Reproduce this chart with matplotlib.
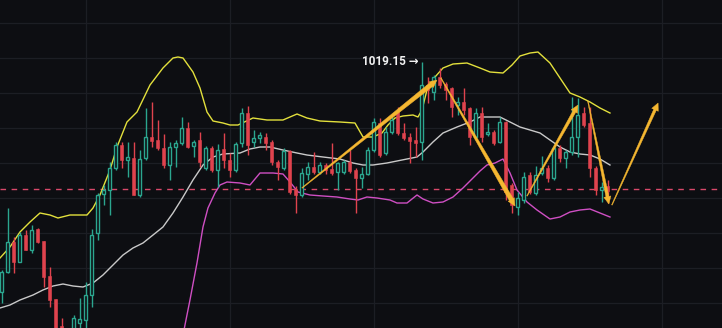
import numpy as np
import matplotlib
matplotlib.use('Agg')
import matplotlib.pyplot as plt
from matplotlib.patches import Polygon

# OHLC candles
opens = [904, 914, 929, 919, 932.5, 925, 935.5, 929.5, 912, 900.5, 887, 880, 885, 888.5, 890,
         902.5, 933.5, 953, 955, 966, 977.5, 970, 971, 952.5, 971, 981.5, 980, 976, 967.5, 976.5,
         978.5, 986, 977, 980, 966, 976, 965, 975.5, 970, 965, 978.5, 993.5, 979, 981, 981.5,
         979, 969, 966, 974.5, 955.5, 952.5, 963, 966.5, 964, 967.5, 965.5, 964, 964, 969, 965,
         961, 963, 975, 988.5, 973.5, 984, 994, 983.5, 981.5, 980, 979, 1007.5, 1004, 1011.5, 1008,
         1006, 997.5, 999, 996, 981.5, 993.5, 983, 984, 979, 989, 957.5, 946.5, 950, 962.5, 953.5,
         963.5, 966, 961, 976, 971, 974, 981.5, 993.5, 988.5, 966, 955, 957]
highs = [915, 946, 931.5, 934, 935, 937.5, 936, 929.5, 916.5, 900.5, 891, 885, 892.5, 901, 909,
         935.5, 953.5, 957.5, 969, 979, 979, 979, 979, 975, 996, 999, 990, 983, 979, 980,
         991.5, 989, 980, 984, 977, 977, 978, 983.5, 973.5, 979, 996, 997, 985, 984, 983.5,
         980, 970, 976, 975, 957, 966, 969, 974, 969, 968.5, 978.5, 969, 970, 975, 966,
         966.5, 976.5, 991, 991, 986.5, 992.5, 996.5, 988.5, 983.5, 986.5, 1019.15, 1011.5, 1012.5, 1016, 1009,
         1006.5, 1001.5, 1006, 996.5, 996, 996.5, 988.5, 985, 991.5, 989.5, 958.5, 954, 964, 964, 967,
         972, 967.5, 977.5, 977.5, 975, 1001.5, 1001, 996.5, 996.5, 967, 959, 960]
lows = [898.5, 913.5, 913.5, 919, 925, 923.5, 928.5, 906.5, 896.5, 880, 877.5, 874, 882.5, 886, 886,
        896.5, 930, 947.5, 942.5, 965, 966, 961.5, 952.5, 951.5, 970, 976.5, 975, 966, 960, 966.5,
        977.5, 976, 971.5, 966.5, 965, 964, 956.5, 966, 961.5, 964, 976.5, 972.5, 976.5, 978.5, 975,
        967.5, 960, 965, 953, 943.5, 951.5, 960, 963, 963, 963, 962.5, 955, 963, 963.5, 943.5,
        956, 962.5, 974, 971.5, 972.5, 983, 982.5, 980, 968.5, 971.5, 970, 998.5, 1000, 1006, 1000,
        991.5, 992.5, 992.5, 977.5, 980, 979, 982, 977.5, 978.5, 950, 943.5, 942.5, 948.5, 953, 952.5,
        962.5, 959, 960, 969, 966, 972.5, 971.5, 986.5, 961.5, 952.5, 949, 948.5]
closes = [914, 929, 919, 932.5, 925, 935, 929, 911.5, 900, 882.5, 881, 882.5, 891, 890.5, 902.5,
          932.5, 952.5, 955, 966, 977.5, 970, 971.5, 952.5, 970.5, 981.5, 979.5, 976, 967.5, 976.5, 978.5,
          986, 976.5, 979, 969, 976, 965, 975, 970, 965, 978, 993.5, 977.5, 981, 982.5, 978.5,
          969, 966.5, 974.5, 954, 952.5, 963.5, 966.5, 964, 967.5, 965, 963.5, 968.5, 969, 964.5, 961,
          963, 975, 989, 972.5, 984, 990, 983.5, 981, 979.5, 978.5, 1007.5, 1005, 1011.5, 1007.5, 1005,
          996.5, 999, 995, 981.5, 993.5, 981.5, 984, 978.5, 989, 954, 947.5, 951, 961.5, 954, 962.5,
          966, 961, 976, 971, 974, 981.5, 992.5, 987.5, 966, 955, 956.5, 954.5]

# Bollinger bands (bar index, price)
upper_x = [-0.28, 1.38, 3.05, 4.72, 6.38, 8.05, 9.38, 11.38, 14.22, 15.22, 16.38, 18.05, 19.22, 20.88,
           22.55, 24.72, 26.88, 28.55, 29.38, 30.22, 31.88, 33.05, 34.22, 35.22, 36.88, 38.05, 39.38,
           41.88, 44.22, 46.88, 49.22, 50.88, 53.05, 56.38, 58.88, 60.22, 61.88, 63.38, 64.38, 65.55,
           66.88, 68.55, 69.38, 70.05, 70.88, 72.22, 73.55, 75.22, 77.55, 79.72, 81.38, 83.55, 85.05,
           86.38, 88.05, 89.38, 91.38, 93.05, 94.72, 96.38, 98.05, 99.72, 101.38]
upper_y = [921, 926.5, 934, 939, 943.5, 942.5, 941, 942.5, 942.5, 946, 952.5, 965, 976.5, 989,
           994, 1007.5, 1016, 1021, 1021.5, 1021, 1014, 1006, 994, 989.5, 988.5, 987.5, 987.5,
           991, 990, 990, 993, 991, 989.5, 989, 988.5, 981.5, 981.5, 983.5, 987.5, 991,
           992, 992.5, 991.5, 995, 1005, 1011.5, 1016, 1018, 1018.5, 1016, 1014, 1013.5, 1017.5,
           1022, 1023.5, 1024, 1018.5, 1011, 1003.5, 1001.5, 999, 996, 993.5]
mid_x = [-0.28, 1.38, 3.05, 5.22, 6.88, 8.55, 10.22, 11.88, 13.55, 15.22, 16.88, 18.55, 20.22, 21.88,
         23.55, 25.22, 26.88, 28.55, 30.22, 31.88, 33.55, 35.22, 36.88, 39.72, 41.38, 43.05, 44.72,
         46.88, 49.22, 50.88, 53.55, 56.38, 58.55, 60.22, 61.88, 64.22, 65.88, 67.55, 69.22, 70.22,
         71.88, 73.55, 75.88, 78.05, 79.72, 81.38, 83.05, 84.72, 86.38, 88.05, 89.72, 91.38, 93.05,
         94.72, 96.38, 98.05, 99.72, 101.38]
mid_y = [896, 897.5, 900, 902.5, 905, 907, 908, 907, 906.5, 908.5, 912.5, 917.5, 922.5, 926,
         928.5, 932.5, 936.5, 943.5, 951.5, 960, 967.5, 971.5, 973, 973.5, 975.5, 976.5, 976.5,
         975, 973.5, 972.5, 971.5, 970.5, 968.5, 967.5, 967.5, 968.5, 969.5, 970.5, 971.5, 974,
         979, 983.5, 986.5, 989, 991.5, 991.5, 991.5, 989, 986.5, 985, 983.5, 980, 976.5,
         974, 973, 972.5, 970.5, 967.5]
lower_x = [30.05, 31.38, 32.55, 33.55, 34.38, 35.55, 36.38, 37.55, 39.72, 41.38, 43.05, 45.22, 46.88,
           48.05, 49.38, 51.38, 53.55, 55.88, 58.05, 59.38, 60.88, 62.55, 64.72, 65.88, 67.55, 69.22,
           70.22, 71.88, 73.55, 75.22, 76.88, 78.55, 79.72, 80.88, 82.22, 83.55, 84.72, 85.88, 87.55,
           89.22, 91.38, 93.05, 94.72, 96.38, 98.05, 99.72, 101.38]
lower_y = [880, 900, 918.5, 936.5, 946, 953.5, 957.5, 959, 958.5, 957.5, 963.5, 963.5, 963,
           959, 954, 952.5, 952, 951.5, 950.5, 950, 951.5, 951, 950, 948.5, 948.5, 952.5,
           950.5, 948.5, 949, 951.5, 956, 961, 964.5, 967.5, 968.5, 970.5, 963.5, 955, 949,
           945, 940.5, 941.5, 944, 945, 945.5, 943.5, 941.5]

level_line = 955.5
peak_label = '1019.15 →'

# hand-drawn arrows on the chart: (start bar, start price, end bar, end price, end half-width px)
arrows = [
    (50.05, 956, 72.55, 1010, 2.3),
    (73.2, 1011, 85.55, 947, 2.2),
    (87.55, 952, 96.05, 997.5, 1.6),
    (97.7, 999.5, 101.2, 948, 1.5),
    (101.7, 947.5, 109.4, 998.5, 1.4),
]

BG = '#0d0e12'
GREEN = '#2ba68f'
RED = '#e0434e'
ARROW = '#f5b731'

fig = plt.figure(figsize=(7.22, 3.28), dpi=100, facecolor=BG)
ax = fig.add_axes([0, 0, 1, 1])
ax.set_facecolor(BG)
ax.set_xlim(-0.28, 120.05)
ax.set_ylim(886, 1050)
for s in ax.spines.values():
    s.set_visible(False)
ax.set_xticks([14, 38, 62, 86, 110])
ax.set_yticks(np.arange(898.35, 1050, 17.5))
ax.tick_params(length=0, labelbottom=False, labelleft=False)
ax.grid(True, color='#1c1e24', linewidth=0.9)
ax.set_axisbelow(True)

ax.axhline(level_line, color='#d9486a', linewidth=1.0, dashes=(4, 4), zorder=1)

ax.plot(upper_x, upper_y, color='#e3e03c', linewidth=1.0, zorder=2)
ax.plot(mid_x, mid_y, color='#c9c9c9', linewidth=1.0, zorder=2)
ax.plot(lower_x, lower_y, color='#cf4fc3', linewidth=1.0, zorder=2)

o = np.array(opens)
h = np.array(highs)
l = np.array(lows)
c = np.array(closes)
idx = np.arange(len(o))
up = c >= o
top = np.maximum(o, c)
bot = np.minimum(o, c)
body = np.maximum(top - bot, 0.6)

ax.vlines(idx[up], top[up], h[up], color=GREEN, linewidth=1.0, zorder=3)
ax.vlines(idx[up], l[up], bot[up], color=GREEN, linewidth=1.0, zorder=3)
ax.vlines(idx[~up], l[~up], h[~up], color=RED, linewidth=1.0, zorder=3)
ax.bar(idx[up], body[up], bottom=bot[up], width=0.52, facecolor=BG,
       edgecolor=GREEN, linewidth=1.0, zorder=4)
ax.bar(idx[~up], body[~up], bottom=bot[~up], width=0.6, facecolor=RED,
       edgecolor=RED, linewidth=0.4, zorder=4)

peak = int(np.argmax(h))
ax.text(peak - 0.45, h[peak], peak_label, ha='right', va='center', color='#f2f2f2',
        fontsize=8.5, fontweight='bold', family=['Roboto', 'DejaVu Sans'], zorder=6)


def taper_arrow(x0, y0, x1, y1, w1, w0=0.35, head_w=3.6, head_len=7.5):
    to_px = ax.transData
    p0 = np.array(to_px.transform((x0, y0)))
    p1 = np.array(to_px.transform((x1, y1)))
    d = p1 - p0
    u = d / np.hypot(*d)
    n = np.array([-u[1], u[0]])
    b = p1 - u * head_len
    pts = [p0 + n * w0, b + n * w1, b + n * head_w, p1,
           b - n * head_w, b - n * w1, p0 - n * w0]
    pts = to_px.inverted().transform(pts)
    ax.add_patch(Polygon(pts, closed=True, facecolor=ARROW, edgecolor=ARROW,
                         linewidth=0.3, zorder=5))


for a in arrows:
    taper_arrow(*a)

fig.savefig('out.png', dpi=100, facecolor=BG)
